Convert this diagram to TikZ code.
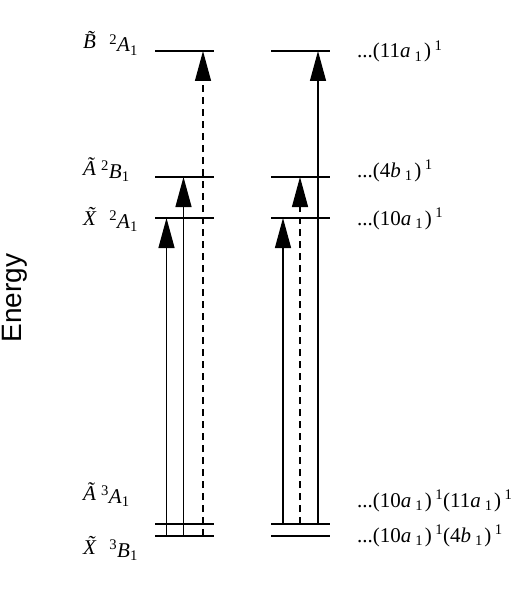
\documentclass[tikz,border=0pt]{standalone}
\usepackage{fontspec}
\setmainfont{Liberation Serif}
\newfontfamily\axisfont{Liberation Sans}
\usetikzlibrary{arrows.meta}

\newcommand{\lsub}[1]{\kern4pt\textsubscript{#1}\kern1.5pt}
\newcommand{\lsup}[1]{\kern3.5pt\textsuperscript{#1}}
\newcommand{\tl}[1]{\raisebox{3pt}{\textit{\~#1}}}
\newcommand{\term}[3]{\tl{#1}\hspace{5pt}\textsuperscript{#2}\textit{#3}\textsubscript{1}}

\tikzset{
  level/.style={line width=1.8pt},
  exc/.style={line width=1.3pt,-{Triangle[length=30pt,width=16pt]}},
  exd/.style={exc,dash pattern=on 7pt off 5pt},
  lab/.style={anchor=base west,inner sep=0pt,font=\fontsize{21}{25}\selectfont},
}

\begin{document}
\begin{tikzpicture}[x=1pt,y=-1pt]
\useasboundingbox (0,0) rectangle (520,591);
% levels, left group
\coordinate (lB) at (155,51);
\coordinate (lAd) at (155,177);
\coordinate (lXd) at (155,218);
\coordinate (lAt) at (155,524);
\coordinate (lXt) at (155,536);
% levels, right group
\coordinate (rB) at (271,51);
\coordinate (rAd) at (271,177);
\coordinate (rXd) at (271,218);
\coordinate (rAt) at (271,524);
\coordinate (rXt) at (271,536);
\draw[level] (lB) -- ++(59,0);
\draw[level] (lAd) -- ++(59,0);
\draw[level] (lXd) -- ++(59,0);
\draw[level] (lAt) -- ++(59,0);
\draw[level] (lXt) -- ++(59,0);
\draw[level] (rB) -- ++(59,0);
\draw[level] (rAd) -- ++(59,0);
\draw[level] (rXd) -- ++(59,0);
\draw[level] (rAt) -- ++(59,0);
\draw[level] (rXt) -- ++(59,0);
% excitations from the triplet ground state
\draw[exc] ([xshift=11.5pt]lXt) -- ([xshift=11.5pt]lXd);
\draw[exc] ([xshift=28.5pt]lXt) -- ([xshift=28.5pt]lAd);
\draw[exd] ([xshift=48pt]lXt) -- ([xshift=48pt]lB);
% excitations from the first excited triplet
\draw[exc] ([xshift=12pt]rAt) -- ([xshift=12pt]rXd);
\draw[exd] ([xshift=29pt]rAt) -- ([xshift=29pt]rAd);
\draw[exc] ([xshift=47pt]rAt) -- ([xshift=47pt]rB);
% state labels
\node[lab] (tB) at (83,52) {\term{B}{2}{A}};
\node[lab] (tAd) at (83,178) {\term{A}{2}{B}};
\node[lab] (tXd) at (83,228) {\term{X}{2}{A}};
\node[lab] (tAt) at (83,503) {\term{A}{3}{A}};
\node[lab] (tXt) at (83,557) {\term{X}{3}{B}};
% configurations
\node[lab] (c11a) at (357,58) {...(11\textit{a}\lsub{1})\lsup{1}};
\node[lab] (c4b) at (357,177) {...(4\textit{b}\lsub{1})\lsup{1}};
\node[lab] (c10a) at (357,225) {...(10\textit{a}\lsub{1})\lsup{1}};
\node[lab] (c10a11a) at (357,507) {...(10\textit{a}\lsub{1})\lsup{1}(11\textit{a}\lsub{1})\lsup{1}};
\node[lab] (c10a4b) at (357,542) {...(10\textit{a}\lsub{1})\lsup{1}(4\textit{b}\lsub{1})\lsup{1}};
\node[rotate=90,inner sep=0pt,font=\axisfont\fontsize{28}{32}\selectfont] (energy) at (15,298) {Energy};
\end{tikzpicture}
\end{document}
